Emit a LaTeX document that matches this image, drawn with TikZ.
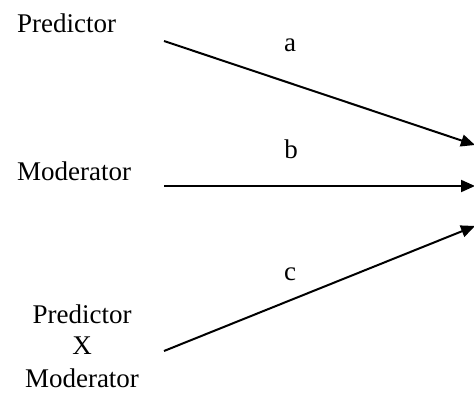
\documentclass[tikz,border=0pt]{standalone}
\usepackage{fontspec}
\setmainfont{Liberation Serif}
\usetikzlibrary{arrows.meta}
\begin{document}
\begin{tikzpicture}[x=1pt,y=-1pt,
  lbl/.style={font=\fontsize{27}{32}\selectfont, inner sep=0pt},
  conn/.style={line width=2pt, -{Triangle[length=14pt,width=12pt]}}]
\useasboundingbox (0,0) rectangle (474,412);
\node[lbl, anchor=base west] (pred) at (17,33) {Predictor};
\node[lbl, anchor=base west] (mod) at (17,180) {Moderator};
\node[lbl, align=center, anchor=base] (inter) at (82,387) {Predictor\\[-1pt]X\\[1pt]Moderator};
\coordinate (sa) at (164,41);
\coordinate (sb) at (164,186);
\coordinate (sc) at (164,351);
\coordinate (ta) at (475,145);
\coordinate (tb) at (475,186);
\coordinate (tc) at (475,226);
\draw[conn] (sa) -- (ta);
\draw[conn] (sb) -- (tb);
\draw[conn] (sc) -- (tc);
\node[lbl] (la) at (290,45) {a};
\node[lbl] (lb) at (291,149) {b};
\node[lbl] (lc) at (290,274) {c};
\end{tikzpicture}
\end{document}
